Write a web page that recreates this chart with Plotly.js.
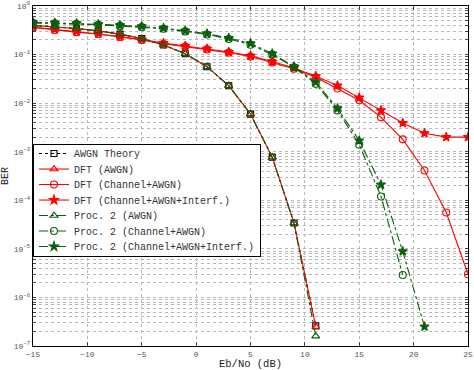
<!DOCTYPE html>
<html>
<head>
<meta charset="utf-8">
<script src="https://cdn.plot.ly/plotly-3.0.1.min.js"></script>
<style>html,body{margin:0;padding:0;background:#fff;}#chart{width:474px;height:370px;}</style>
</head>
<body>
<div id="chart"></div>
<script>
// Eb/No values (dB)
const xAwgn = [-15,-13,-11,-9,-7,-5,-3,-1,1,3,5,7,9,11];
const xDft = [-15,-13,-11,-9,-7,-5,-3,-1,1,3,5,7,9,11,13,15,17,19,21,23,25];
const xProcChan = [-15,-13,-11,-9,-7,-5,-3,-1,1,3,5,7,9,11,13,15,17,19];
const xProcInterf = [-15,-13,-11,-9,-7,-5,-3,-1,1,3,5,7,9,11,13,15,17,19,21];

// BER values
const awgnTheory = [0.40,0.376,0.345,0.308,0.264,0.213,0.158,0.104,0.0563,0.0229,0.00595,7.7e-4,3.4e-5,2.6e-7];
const dftAwgn    = [0.40,0.376,0.345,0.308,0.264,0.213,0.158,0.104,0.0563,0.0229,0.00595,7.7e-4,3.4e-5,2.5e-7];
const procAwgn   = [0.40,0.376,0.345,0.308,0.264,0.213,0.158,0.104,0.0563,0.0229,0.00595,7.7e-4,3.4e-5,1.6e-7];
const dftChan    = [0.36,0.32,0.29,0.265,0.23,0.20,0.167,0.146,0.128,0.11,0.091,0.069,0.051,0.034,0.020,0.0115,0.0051,0.0018,4.1e-4,5.6e-5,3e-6];
const dftInterf  = [0.37,0.33,0.30,0.27,0.235,0.205,0.172,0.15,0.132,0.113,0.094,0.072,0.053,0.036,0.023,0.013,0.0071,0.0039,0.0024,0.0020,0.0020];
const procChan   = [0.45,0.44,0.43,0.41,0.39,0.37,0.34,0.30,0.26,0.21,0.16,0.10,0.055,0.025,0.0071,0.0014,1.2e-4,2.9e-6];
const procInterf = [0.46,0.45,0.44,0.42,0.40,0.38,0.35,0.31,0.27,0.22,0.17,0.105,0.057,0.027,0.0078,0.0017,2.1e-4,8.9e-6,2.5e-7];

const seriesNames = ['AWGN Theory','DFT (AWGN)','DFT (Channel+AWGN)','DFT (Channel+AWGN+Interf.)','Proc. 2 (AWGN)','Proc. 2 (Channel+AWGN)','Proc. 2 (Channel+AWGN+Interf.)'];
const xTickVals = [-15,-10,-5,0,5,10,15,20,25];
const xTickText = ['\u221215','\u221210','\u22125','0','5','10','15','20','25'];
const decades = [-7,-6,-5,-4,-3,-2,-1,0];
const xTitle = 'Eb/No (dB)';
const yTitle = 'BER';

const RED = '#ff0000', GREEN = '#0a5f0a', BLACK = '#000000';
const FONT = '"Liberation Mono", "DejaVu Sans Mono", monospace';

// y ticks: decades with labels, minor positions unlabeled
const yTickVals = [], yTickText = [];
decades.forEach(d => {
  yTickVals.push(Math.pow(10, d));
  yTickText.push(d === 0 ? '10<sup>0</sup>' : '10<sup>\u2212' + (-d) + '</sup>');
  if (d < 0) for (let m = 2; m <= 9; m++) { yTickVals.push(m * Math.pow(10, d)); yTickText.push(''); }
});

function tr(x, y, name, color, dash, symbol, msize) {
  return {x: x, y: y, name: name, type: 'scatter', mode: 'lines+markers',
    line: {color: color, width: 1.1, dash: dash},
    marker: {symbol: symbol, size: msize, color: color, line: {color: color, width: 1.1}}};
}

const data = [
  tr(xAwgn, awgnTheory, seriesNames[0], BLACK, 'dot', 'square-open', 6),
  tr(xAwgn, dftAwgn, seriesNames[1], RED, 'solid', 'triangle-up-open', 7),
  tr(xDft, dftChan, seriesNames[2], RED, 'solid', 'circle-open', 7),
  tr(xDft, dftInterf, seriesNames[3], RED, 'solid', 'star', 7),
  tr(xAwgn, procAwgn, seriesNames[4], GREEN, 'dashdot', 'triangle-up-open', 7),
  tr(xProcChan, procChan, seriesNames[5], GREEN, 'dashdot', 'circle-open', 7),
  tr(xProcInterf, procInterf, seriesNames[6], GREEN, 'dashdot', 'star', 7)
];

const layout = {
  width: 474, height: 370,
  margin: {l: 33, r: 6, t: 6, b: 24},
  paper_bgcolor: '#fff', plot_bgcolor: '#fff',
  font: {family: FONT, size: 10, color: '#222'},
  showlegend: true,
  legend: {x: 0, y: 0.594, xanchor: 'left', yanchor: 'top', bgcolor: '#fff',
    bordercolor: '#000', borderwidth: 1, font: {family: FONT, size: 10, color: '#333'}},
  xaxis: {range: [-15, 25], tickvals: xTickVals, ticktext: xTickText, ticks: 'inside', ticklen: 4,
    showline: true, linecolor: '#000', linewidth: 1.4, mirror: 'ticks', zeroline: false,
    showgrid: true, gridcolor: '#b8b8b8', griddash: 'dot', gridwidth: 1,
    tickfont: {family: FONT, size: 8, color: '#555'}, ticklabeloverflow: 'allow',
    automargin: false},
  yaxis: {type: 'log', range: [-7, 0.0005], tickvals: yTickVals, ticktext: yTickText, ticks: 'inside', ticklen: 3,
    showline: true, linecolor: '#000', linewidth: 1.4, mirror: 'ticks', zeroline: false,
    showgrid: true, gridcolor: '#b8b8b8', griddash: 'dot', gridwidth: 1,
    tickfont: {family: FONT, size: 8, color: '#555'}, ticklabeloverflow: 'allow',
    title: {text: yTitle, font: {family: FONT, size: 10, color: '#222'}, standoff: 6},
    automargin: false},
  annotations: [
    {text: xTitle, xref: 'paper', yref: 'paper', x: 0.5, y: 0, xanchor: 'center', yanchor: 'top',
     yshift: -11, borderpad: 0, showarrow: false, font: {family: FONT, size: 10.5, color: '#222'}}
  ]
};

Plotly.newPlot('chart', data, layout, {displayModeBar: false, staticPlot: true}).then(gd => {
  // compact the legend rows to match the reference spacing
  const STEP = 15.5, FIRST = 9.5;
  const items = gd.querySelectorAll('.legend .traces');
  items.forEach((el, i) => {
    const m = /translate\(\s*([-\d.e]+)[ ,]+([-\d.e]+)\s*\)/.exec(el.getAttribute('transform') || '');
    const tx = m ? m[1] : 0;
    el.setAttribute('transform', 'translate(' + tx + ',' + (FIRST + i * STEP) + ')');
  });
  const h = FIRST * 2 + (items.length - 1) * STEP;
  const bg = gd.querySelector('.legend .bg');
  if (bg) bg.setAttribute('height', h);
});
</script>
</body>
</html>
